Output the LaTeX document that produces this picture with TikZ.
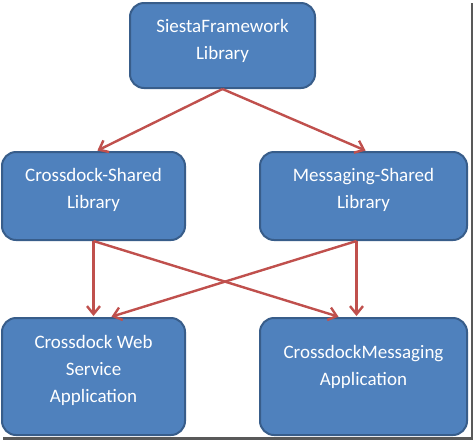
\documentclass[tikz,border=0pt]{standalone}
\usepackage{fontspec}
\setmainfont{Carlito}
\usetikzlibrary{arrows.meta,calc}
\definecolor{boxfill}{HTML}{4F81BD}
\definecolor{boxline}{HTML}{385D8A}
\definecolor{arrowred}{HTML}{C0504D}
\tikzset{
  box/.style={draw=boxline, line width=2pt, fill=boxfill, rounded corners=14pt, inner sep=0pt},
  boxtext/.style={text=white, font=\fontsize{19}{27}\selectfont, align=center},
  conn/.style={draw=arrowred, line width=2.4pt, -{Straight Barb[length=8pt,width=13pt,line width=2.4pt]}, shorten >=1pt}
}
\begin{document}
\begin{tikzpicture}[x=1pt,y=-1pt]
\useasboundingbox (0,0) rectangle (474,440);
\fill[white] (0,0) rectangle (474,440);
% frame shadow
\draw[gray!70!black, line width=2.5pt] (472,3) -- (472,438.5) -- (3,438.5);

\node[box, minimum width=185pt, minimum height=85pt,
  label={[boxtext, yshift=5pt]center:SiestaFramework\\Library}] (top) at (222.5,45.5) {};
\node[box, minimum width=183pt, minimum height=88pt,
  label={[boxtext, yshift=6pt]center:Crossdock-Shared\\Library}] (midL) at (93.5,196) {};
\node[box, minimum width=207pt, minimum height=88pt,
  label={[boxtext, yshift=6pt]center:Messaging-Shared\\Library}] (midR) at (363.5,196) {};
\node[box, minimum width=183pt, minimum height=117pt,
  label={[boxtext, yshift=6pt]center:Crossdock Web\\Service\\Application}] (botL) at (93.5,376.5) {};
\node[box, minimum width=207pt, minimum height=117pt,
  label={[boxtext, yshift=10pt]center:CrossdockMessaging\\Application}] (botR) at (363.5,376.5) {};

\draw[conn] (top.south) -- ($(midL.north)+(3,0)$);
\draw[conn] (top.south) -- ($(midR.north)+(3,0)$);
\draw[conn] (midL.south) -- (botL.north);
\draw[conn] (midL.south) -- ($(botR.north)+(-24,0)$);
\draw[conn] ($(midR.south)+(-7,0)$) -- ($(botR.north)+(-7,0)$);
\draw[conn] ($(midR.south)+(-7,0)$) -- ($(botL.north)+(17,0)$);
\end{tikzpicture}
\end{document}
